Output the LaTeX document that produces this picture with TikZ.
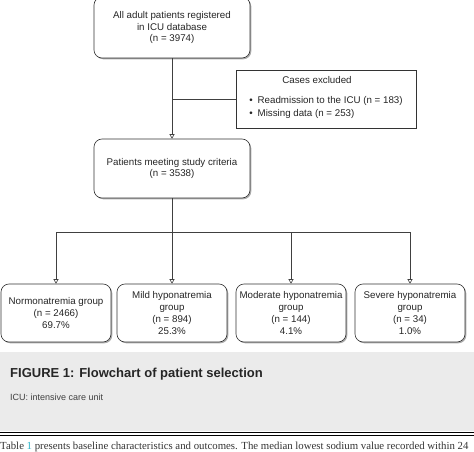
\documentclass[tikz,border=0pt]{standalone}
\usepackage{fontspec}
\setmainfont{Liberation Sans}
\newfontfamily\bodyserif{Liberation Serif}
\usetikzlibrary{arrows.meta,shadows}
\definecolor{captiongray}{HTML}{EBEBEB}
\definecolor{linkcyan}{HTML}{2BB3C9}
\tikzset{
  flow/.style={draw=black!75, line width=0.6pt},
  flow arrow/.style={flow, -{Triangle[open, length=4.5pt, width=5pt, fill=white]}},
  rbox/.style={draw=black!80, line width=0.6pt, rounded corners=8pt, fill=white,
    align=center, inner sep=0pt, text=black!85,
    font=\fontsize{9.75}{11.7}\selectfont,
    drop shadow={shadow xshift=1.3pt, shadow yshift=-1.3pt, fill=black!55, opacity=0.6}},
  sbox/.style={rbox, rounded corners=0pt},
}

\begin{document}
\begin{tikzpicture}[x=1pt, y=-1pt]
  \clip (0,0) rectangle (474,452);

  % Selection
  \node[rbox, minimum width=156pt, minimum height=61pt] (all) at (172,27.5)
    {All adult patients registered\\in ICU database\\(n = 3974)};
  \node[sbox, minimum width=180pt, minimum height=58pt] (excl) at (326,99)
    {\begin{tabular}{@{}l@{}}
      \multicolumn{1}{@{}c@{}}{Cases excluded\rule{18pt}{0pt}}\\[8pt]
      \textbullet\enspace Readmission to the ICU (n = 183)\\[1pt]
      \textbullet\enspace Missing data (n = 253)\\[3pt]
    \end{tabular}};
  \node[rbox, minimum width=156pt, minimum height=59pt] (crit) at (172,168.5)
    {Patients meeting study criteria\\(n = 3538)};

  \draw[flow arrow] (all) -- (crit);
  \coordinate (split) at (all.south |- excl.west);
  \draw[flow] (split) -- (excl);

  % Groups
  \node[rbox, minimum width=110pt, minimum height=58pt] (normo) at (56,313)
    {Normonatremia group\\(n = 2466)\\69.7\%};
  \node[rbox, minimum width=110pt, minimum height=58pt] (mild) at (172,313)
    {Mild hyponatremia\\group\\(n = 894)\\25.3\%};
  \node[rbox, minimum width=110pt, minimum height=58pt] (moder) at (291,313)
    {Moderate hyponatremia\\group\\(n = 144)\\4.1\%};
  \node[rbox, minimum width=110pt, minimum height=58pt] (severe) at (410,313)
    {Severe hyponatremia\\group\\(n = 34)\\1.0\%};

  \coordinate (bus) at (172,232);
  \draw[flow] (normo |- bus) -- (severe |- bus);
  \draw[flow arrow] (crit) -- (mild);
  \foreach \grp in {normo,moder,severe}
    \draw[flow arrow] (\grp |- bus) -- (\grp);

  % Caption
  \fill[captiongray] (0,352) rectangle (474,431);
  \node[anchor=west, inner sep=0pt, text=black!85,
    font=\fontsize{13}{15}\selectfont\bfseries] (figtitle) at (10,374)
    {FIGURE 1: Flowchart of patient selection};
  \node[anchor=west, inner sep=0pt, text=black!75,
    font=\fontsize{9}{11}\selectfont] (abbrev) at (10,397)
    {ICU: intensive care unit};
  \draw[line width=1.6pt] (0,432.5) -- (474,432.5);
  \draw[line width=0.8pt] (0,435.5) -- (474,435.5);

  % Body text
  \node[anchor=base west, inner sep=0pt, text=black!80,
    font=\bodyserif\fontsize{10.8}{12}\selectfont] (bodytext) at (0,449.5)
    {Table {\color{linkcyan}1} presents baseline characteristics and outcomes. The median lowest sodium value recorded within 24};
\end{tikzpicture}
\end{document}
